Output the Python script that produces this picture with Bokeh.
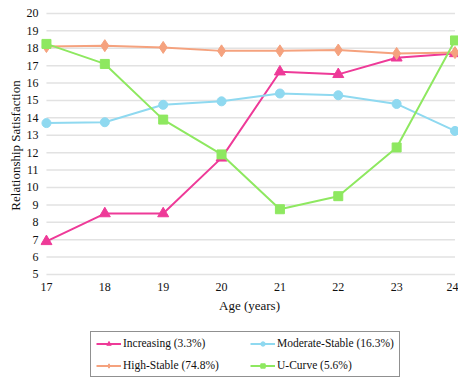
from bokeh.plotting import figure
from bokeh.layouts import column
from bokeh.models import Range1d, Legend, LegendItem, FixedTicker, ColumnDataSource
from bokeh.embed import file_html
from bokeh.resources import INLINE

ages = [17, 18, 19, 20, 21, 22, 23, 24]
increasing = [6.9, 8.5, 8.5, 11.7, 16.65, 16.5, 17.45, 17.7]
moderate_stable = [13.7, 13.75, 14.75, 14.95, 15.4, 15.3, 14.8, 13.25]
high_stable = [18.1, 18.15, 18.05, 17.85, 17.85, 17.9, 17.7, 17.75]
u_curve = [18.25, 17.1, 13.9, 11.9, 8.75, 9.5, 12.3, 18.45]
y_ticks = list(range(5, 21))

FONT = "Liberation Serif"

p = figure(width=458, height=322, output_backend="svg", toolbar_location=None,
           x_range=Range1d(16.898, 24.06), y_range=Range1d(4.655, 20.17),
           min_border_left=40, min_border_right=0, min_border_top=10,
           min_border_bottom=42, background_fill_color="white",
           border_fill_color="white", outline_line_color=None)

p.xgrid.visible = False
p.ygrid.visible = False

# gridlines spanning the data range only
p.segment(x0=[min(ages)] * len(y_ticks), x1=[max(ages)] * len(y_ticks),
          y0=y_ticks, y1=y_ticks, line_color="#e2e2e2", line_width=1.5)

for ax in (p.xaxis[0], p.yaxis[0]):
    ax.axis_line_color = None
    ax.major_tick_line_color = None
    ax.minor_tick_line_color = None
    ax.major_tick_out = 0
    ax.major_tick_in = 0
    ax.minor_tick_out = 0
    ax.minor_tick_in = 0
    ax.major_label_text_font = FONT
    ax.major_label_text_font_size = "12px"
    ax.major_label_text_color = "#111111"
    ax.axis_label_text_font = FONT
    ax.axis_label_text_font_size = "13px"
    ax.axis_label_text_font_style = "normal"
    ax.axis_label_text_color = "#111111"

p.xaxis.ticker = FixedTicker(ticks=ages)
p.yaxis.ticker = FixedTicker(ticks=y_ticks)
p.xaxis.axis_label = "Age (years)"
p.yaxis.axis_label = "Relationship Satisfaction"
p.xaxis.major_label_standoff = 2
p.yaxis.major_label_standoff = 2
p.xaxis.axis_label_standoff = 4
p.yaxis.axis_label_standoff = 1

series = [
    ("Increasing (3.3%)", increasing, "#EE3A98", "triangle", 11),
    ("Moderate-Stable (16.3%)", moderate_stable, "#8FD9F0", "circle", 9),
    ("High-Stable (74.8%)", high_stable, "#F5A27E", "diamond", 12),
    ("U-Curve (5.6%)", u_curve, "#8EE860", "square", 9),
]

# separate strip below the chart that only holds the legend
p2 = figure(width=458, height=55, output_backend="svg", toolbar_location=None,
            x_range=Range1d(0, 1), y_range=Range1d(0, 1),
            min_border_left=0, min_border_right=0, min_border_top=0,
            min_border_bottom=0, outline_line_color=None,
            background_fill_color="white", border_fill_color="white")
p2.axis.visible = False
p2.grid.visible = False

items = {}
for name, vals, color, marker, size in series:
    src = ColumnDataSource(dict(x=ages, y=vals))
    p.line("x", "y", source=src, line_color=color, line_width=2)
    p.scatter("x", "y", source=src, marker=marker, size=size,
              fill_color=color, line_color=color)
    # same styled renderers in the legend strip (their data lie outside its range)
    l2 = p2.line("x", "y", source=src, line_color=color, line_width=2)
    m2 = p2.scatter("x", "y", source=src, marker=marker, size=size,
                    fill_color=color, line_color=color)
    items[name] = LegendItem(label=name, renderers=[l2, m2])

order = ["Increasing (3.3%)", "High-Stable (74.8%)",
         "Moderate-Stable (16.3%)", "U-Curve (5.6%)"]
legend = Legend(items=[items[k] for k in order], location=(50, 0),
                ncols=2, glyph_width=25, glyph_height=11, label_height=11,
                label_width=117, label_standoff=2, spacing=10, padding=5,
                margin=0, border_line_color="#222222", border_line_width=1.5,
                label_text_font=FONT, label_text_font_size="11.5px",
                label_text_color="#111111", background_fill_alpha=1)
p2.add_layout(legend, "center")

open("out.html", "w").write(file_html(column(p, p2, spacing=0), INLINE))
